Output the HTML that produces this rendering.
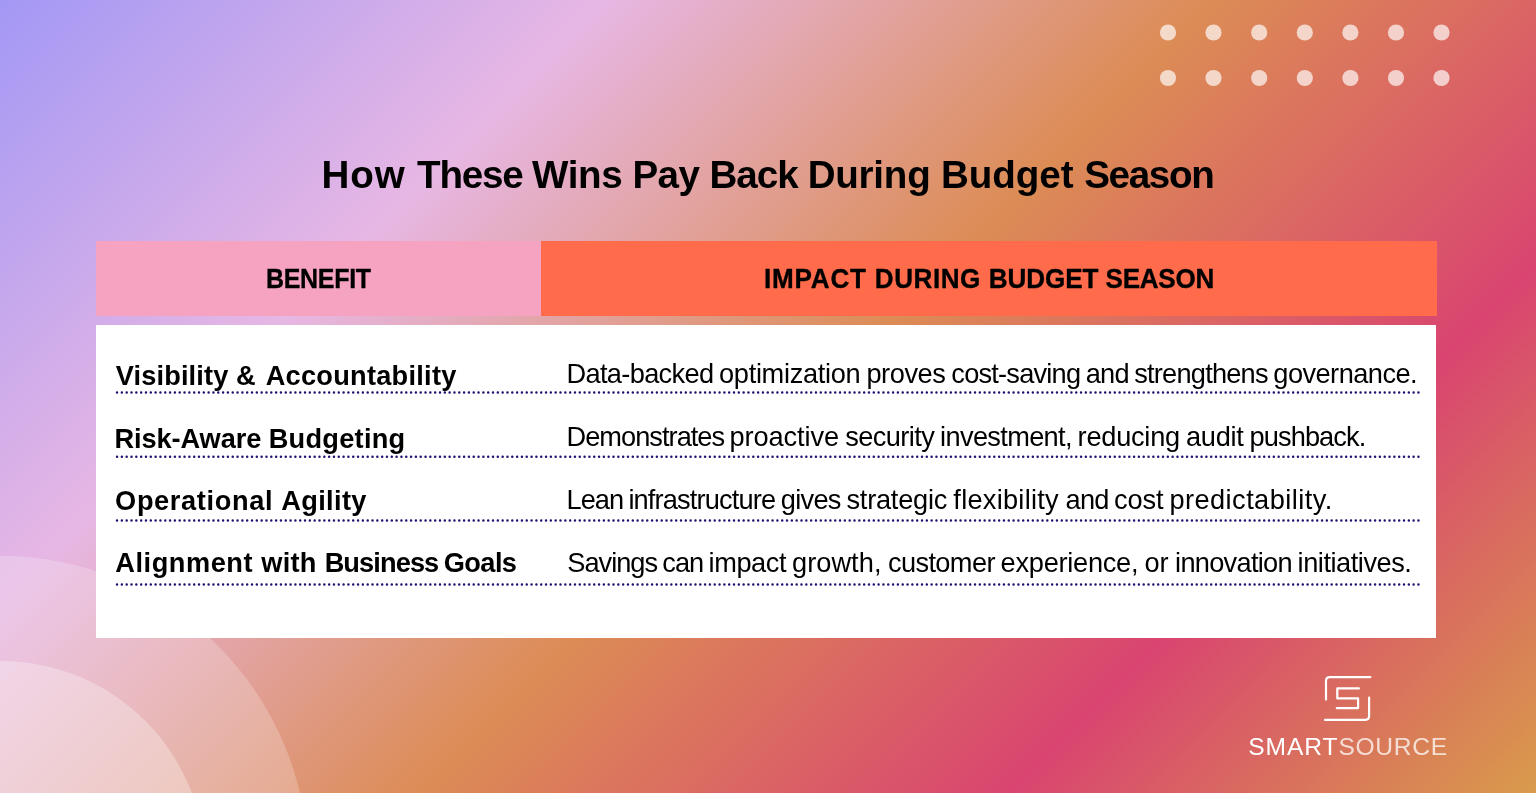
<!DOCTYPE html>
<html lang="en">
<head>
<meta charset="utf-8">
<title>How These Wins Pay Back During Budget Season</title>
<style>
  html, body { margin: 0; padding: 0; }
  body { width: 1536px; height: 793px; overflow: hidden; background: #dc8c55; }
  #stage {
    position: relative; width: 1536px; height: 793px; overflow: hidden;
    font-family: "Liberation Sans", sans-serif; color: #000;
    background: linear-gradient(135deg,
      #a398f5 0%,
      #e7b7e4 26%,
      #dc8c55 52%,
      #d94570 77.4%,
      #d99b4b 100%);
  }
  .circle { position: absolute; border-radius: 50%; background: rgba(255,255,255,0.22); }
  #c1 { left: -306.5px; top: 555.5px; width: 614px; height: 614px; }
  #c2 { left: -203.7px; top: 660.5px; width: 408.4px; height: 408.4px; background: rgba(255,255,255,0.30); }
  #dots { position: absolute; left: 0; top: 0; width: 1536px; height: 120px; }
  .t { position: absolute; margin: 0; white-space: pre; line-height: 40px; height: 40px; font-weight: normal; }
  .bold { font-weight: bold; }
  #h1, #h2 { -webkit-text-stroke: 0.35px #000; }
  /* text blocks: position + size fitted to the reference ink boxes */
  #title { left:321.52px; top:155px; font-size:38.6px; }
  #h1 { left:265.87px; top:259px; font-size:27.3px; transform:scaleX(0.915); transform-origin:0 0; }
  #h2 { left:763.71px; top:259px; font-size:27.3px; transform:scaleX(0.955); transform-origin:0 0; }
  #b1 { left:115.82px; top:356px; font-size:27.2px; }
  #b2 { left:114.50px; top:419px; font-size:27.2px; }
  #b3 { left:115.12px; top:481px; font-size:27.2px; }
  #b4 { left:115.30px; top:543px; font-size:27.2px; }
  #r1 { left:566.55px; top:354px; font-size:27.2px; }
  #r2 { left:566.55px; top:417px; font-size:27.2px; }
  #r3 { left:566.55px; top:480px; font-size:27.2px; }
  #r4 { left:567.29px; top:543px; font-size:27.2px; }
  #l1 { left:1248.23px; top:727px; font-size:24.6px; }
  #l2 { left:1338.43px; top:727px; font-size:24.6px; }
  .hd { position: absolute; top: 241.2px; height: 75.2px; }
  #hd1 { left: 96px; width: 445px; background: #f5a3c1; }
  #hd2 { left: 541px; width: 895.9px; background: #ff6b4b; }
  #card { position: absolute; left: 96px; top: 324.7px; width: 1340.4px; height: 313.2px; background: #fff; }
  .rule { position: absolute; left: 0; top: 0; }
  #logo { position: absolute; left: 1240px; top: 668px; width: 220px; height: 100px; }
  .brand { color: #fff; }
  #l2 { opacity: 0.74; }
</style>
</head>
<body>
<div id="stage">
  <div class="circle" id="c1"></div>
  <div class="circle" id="c2"></div>

  <svg id="dots" viewBox="0 0 1536 120" aria-hidden="true">
    <g fill="#ffffff" fill-opacity="0.68">
      <circle cx="1168" cy="32.5" r="8.1"/><circle cx="1213.5" cy="32.5" r="8.1"/><circle cx="1259.2" cy="32.5" r="8.1"/><circle cx="1304.8" cy="32.5" r="8.1"/><circle cx="1350.4" cy="32.5" r="8.1"/><circle cx="1396" cy="32.5" r="8.1"/><circle cx="1441.5" cy="32.5" r="8.1"/>
      <circle cx="1168" cy="78" r="8.1"/><circle cx="1213.5" cy="78" r="8.1"/><circle cx="1259.2" cy="78" r="8.1"/><circle cx="1304.8" cy="78" r="8.1"/><circle cx="1350.4" cy="78" r="8.1"/><circle cx="1396" cy="78" r="8.1"/><circle cx="1441.5" cy="78" r="8.1"/>
    </g>
  </svg>

  <h1 class="t bold" id="title"><span style="letter-spacing:0.85px">How </span><span style="letter-spacing:-1.21px">These </span><span style="letter-spacing:-0.42px">Wins </span><span style="letter-spacing:-0.60px">Pay </span><span style="letter-spacing:-0.95px">Back </span><span style="letter-spacing:-0.24px">During </span><span style="letter-spacing:-0.05px">Budget </span><span style="letter-spacing:-1.33px">Season</span></h1>

  <div class="hd" id="hd1"></div>
  <div class="hd" id="hd2"></div>
  <div class="t bold" id="h1"><span style="letter-spacing:-0.32px">BENEFIT</span></div>
  <div class="t bold" id="h2"><span style="letter-spacing:0.84px">IMPACT </span><span style="letter-spacing:0.57px">DURING </span><span style="letter-spacing:-0.08px">BUDGET </span><span style="letter-spacing:-0.29px">SEASON</span></div>

  <div id="card"></div>

  <div class="t bold" id="b1"><span style="letter-spacing:0.13px">Visibility </span><span style="letter-spacing:1.18px">&amp; </span><span style="letter-spacing:0.26px">Accountability</span></div>
  <div class="t" id="r1"><span style="letter-spacing:-0.67px;word-spacing:-1.20px">Data-backed </span><span style="letter-spacing:-0.31px;word-spacing:-1.20px">optimization </span><span style="letter-spacing:-0.44px;word-spacing:-1.20px">proves </span><span style="letter-spacing:-0.78px;word-spacing:-1.20px">cost-saving </span><span style="letter-spacing:-0.82px;word-spacing:-1.20px">and </span><span style="letter-spacing:-0.78px;word-spacing:-1.20px">strengthens </span><span style="letter-spacing:-0.54px">governance.</span></div>
  <div class="t bold" id="b2"><span style="letter-spacing:-0.09px">Risk-Aware </span><span style="letter-spacing:0.27px">Budgeting</span></div>
  <div class="t" id="r2"><span style="letter-spacing:-0.97px;word-spacing:-1.20px">Demonstrates </span><span style="letter-spacing:-0.10px;word-spacing:-1.20px">proactive </span><span style="letter-spacing:-0.57px;word-spacing:-1.20px">security </span><span style="letter-spacing:-0.66px;word-spacing:-1.20px">investment, </span><span style="letter-spacing:-0.24px;word-spacing:-1.20px">reducing </span><span style="letter-spacing:-0.30px;word-spacing:-1.20px">audit </span><span style="letter-spacing:-0.91px">pushback.</span></div>
  <div class="t bold" id="b3"><span style="letter-spacing:0.63px">Operational </span><span style="letter-spacing:0.34px">Agility</span></div>
  <div class="t" id="r3"><span style="letter-spacing:-1.00px;word-spacing:-1.20px">Lean </span><span style="letter-spacing:-0.84px;word-spacing:-1.20px">infrastructure </span><span style="letter-spacing:-0.70px;word-spacing:-1.20px">gives </span><span style="letter-spacing:-0.22px;word-spacing:-1.20px">strategic </span><span style="letter-spacing:0.26px;word-spacing:-1.20px">flexibility </span><span style="letter-spacing:-0.79px;word-spacing:-1.20px">and </span><span style="letter-spacing:-0.18px;word-spacing:-1.20px">cost </span><span style="letter-spacing:0.44px">predictability.</span></div>
  <div class="t bold" id="b4"><span style="letter-spacing:0.54px">Alignment </span><span style="letter-spacing:0.31px">with </span><span style="letter-spacing:-0.90px;word-spacing:-1.20px">Business </span><span style="letter-spacing:-0.59px">Goals</span></div>
  <div class="t" id="r4"><span style="letter-spacing:-1.00px;word-spacing:-1.20px">Savings </span><span style="letter-spacing:-1.00px;word-spacing:-1.20px">can </span><span style="letter-spacing:-0.43px;word-spacing:-1.20px">impact </span><span style="letter-spacing:0.05px;word-spacing:-1.20px">growth, </span><span style="letter-spacing:-0.61px;word-spacing:-1.20px">customer </span><span style="letter-spacing:-0.26px;word-spacing:-1.20px">experience, </span><span style="letter-spacing:0.05px;word-spacing:-1.20px">or </span><span style="letter-spacing:-0.71px;word-spacing:-1.20px">innovation </span><span style="letter-spacing:-0.46px">initiatives.</span></div>

  <svg class="rule" width="1536" height="793" viewBox="0 0 1536 793" aria-hidden="true">
    <g stroke="#201270" stroke-width="2.5" stroke-linecap="round" stroke-dasharray="0 4.82" fill="none">
      <line x1="117.05" y1="392.5" x2="1420" y2="392.5"/>
      <line x1="117.05" y1="456.7" x2="1420" y2="456.7"/>
      <line x1="117.05" y1="520.5" x2="1420" y2="520.5"/>
      <line x1="117.05" y1="584.5" x2="1420" y2="584.5"/>
    </g>
  </svg>

  <svg id="logo" viewBox="1240 668 220 100" aria-hidden="true">
    <g fill="none" stroke="#ffffff" stroke-width="2.2" stroke-linecap="round" stroke-linejoin="round">
      <path d="M1370.4 677.1 H1329.8 Q1326 677.1 1326 680.9 V699.6"/>
      <path d="M1325 719.9 H1365.3 Q1369.1 719.9 1369.1 716.1 V697.5"/>
      <path d="M1358.9 688.4 H1337.3 V698.4 H1358.1 V708.1 H1336.8"/>
    </g>
  </svg>
  <div class="t brand" id="l1"><span style="letter-spacing:0.91px">SMART</span></div>
  <div class="t brand" id="l2"><span style="letter-spacing:0.69px">SOURCE</span></div>
</div>
</body>
</html>
